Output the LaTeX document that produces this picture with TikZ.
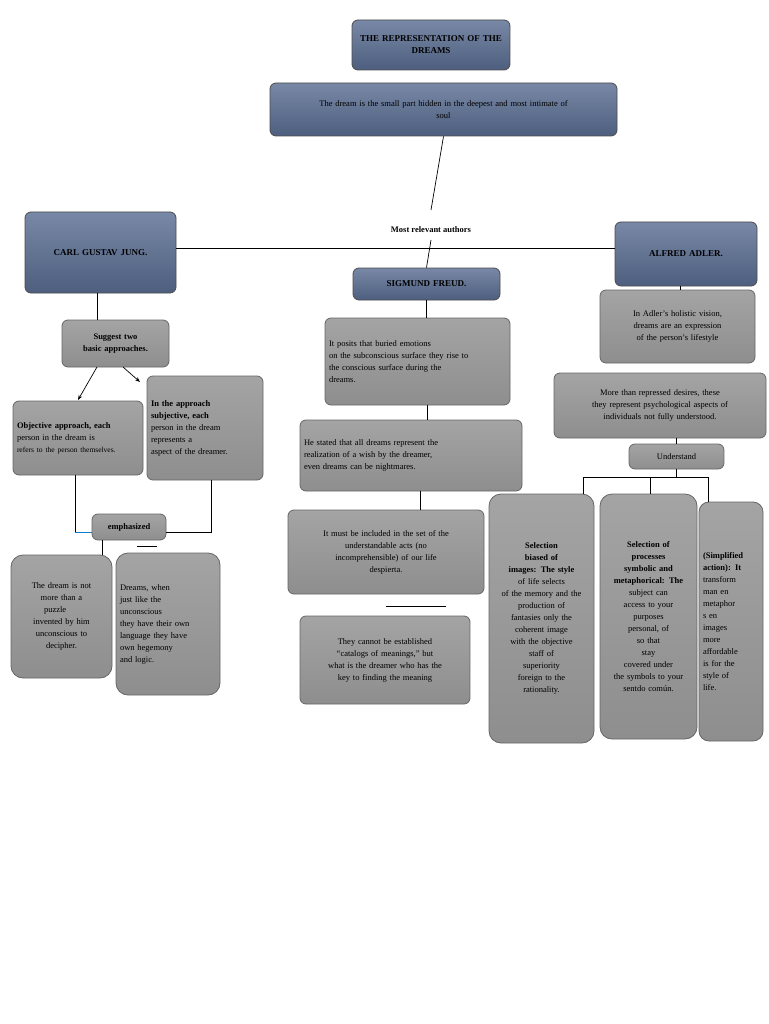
\documentclass[tikz,border=0pt]{standalone}
\usepackage{fontspec}
\setmainfont{Liberation Serif}
\usetikzlibrary{arrows.meta}
\definecolor{bluebox}{HTML}{4E5E7E}
\definecolor{bluetop}{HTML}{7888A6}
\definecolor{graybox}{HTML}{8E8E8E}
\definecolor{graytop}{HTML}{A4A4A4}
\begin{document}
\begin{tikzpicture}[x=1pt,y=-1pt,
 bx/.style={draw=#1,line width=0.8pt,rounded corners=6pt,inner sep=2pt,align=center,font=\fontsize{8.5}{12}\selectfont},
 blue/.style={bx=black!70,top color=bluetop,bottom color=bluebox,font=\fontsize{9}{12}\selectfont\bfseries},
 gray/.style={bx=black!60,top color=graytop,bottom color=graybox},
 ln/.style={line width=0.7pt},
]
\useasboundingbox (0,0) rectangle (768,1024);
\newcommand{\bxat}[6]{\node[#1,minimum width=#4-#2,minimum height=#5-#3,text width=#4-#2-8] (#6) at ({(#2+#4)/2},{(#3+#5)/2})}
% top
\bxat{blue}{352}{20}{510}{70}{title}{THE REPRESENTATION OF THE\\DREAMS};
\bxat{blue,font=\fontsize{8.5}{12}\selectfont}{270}{83}{617}{136}{intro}{The dream is the small part hidden in the deepest and most intimate of\\soul};
\node[font=\fontsize{8.5}{10}\selectfont\bfseries] (most) at (431,230) {Most relevant authors};
\bxat{blue}{25}{212}{176}{293}{jung}{CARL GUSTAV JUNG.};
\bxat{blue}{615}{222}{757}{286}{adler}{ALFRED ADLER.};
\bxat{blue}{353}{268}{500}{300}{freud}{SIGMUND FREUD.};
\draw[ln] (intro.south) -- (431,210);
\draw[ln] (jung.east |- 0,248) -- (adler.west |- 0,248);
\draw[ln] (431,240) -- (freud.north);
% Jung
\bxat{gray,font=\fontsize{8.5}{12}\selectfont\bfseries}{62}{320}{169}{367}{sugg}{Suggest two\\basic approaches.};
\draw[ln] (97,293) -- (97,320);
\bxat{gray,align=left}{13}{401}{143}{475}{obj}{\textbf{Objective approach, each}\\person in the dream is\\{\fontsize{7.5}{11}\selectfont refers to the person themselves.}};
\bxat{gray,align=left}{147}{376}{263}{480}{subj}{\textbf{In the approach}\\\textbf{subjective, each}\\person in the dream\\represents a\\aspect of the dreamer.};
\draw[ln,-{Stealth[length=5pt]}] (97,367) -- (78,400);
\draw[ln,-{Stealth[length=5pt]}] (123,367) -- (140,382);
\bxat{gray,font=\fontsize{8.5}{12}\selectfont\bfseries}{92}{514}{166}{540}{emph}{emphasized};
\draw[ln] (75,475) -- (75,532);
\draw[ln,cyan!60!blue] (75,532) -- (92,532);
\draw[ln] (211,480) -- (211,532) -- (166,532);
\draw[ln] (102,540) -- (102,555);
\coordinate (s1) at (137,546); \coordinate (s2) at (157,546);
\draw[ln] (s1) -- (s2);
\bxat{gray,rounded corners=12pt}{11}{555}{112}{678}{puz}{The dream is not\\more than a\\\hspace*{-1.5em}puzzle\\invented by him\\unconscious to\\decipher.};
\bxat{gray,rounded corners=12pt,align=left}{116}{553}{220}{695}{lang}{Dreams, when\\just like the\\unconscious\\they have their own\\language they have\\own hegemony\\and logic.};
% Freud
\bxat{gray,align=left}{325}{318}{510}{405}{f1}{It posits that buried emotions\\on the subconscious surface they rise to\\the conscious surface during the\\dreams.};
\bxat{gray,align=left}{300}{420}{522}{491}{f2}{He stated that all dreams represent the\\realization of a wish by the dreamer,\\even dreams can be nightmares.};
\bxat{gray}{288}{510}{484}{594}{f3}{It must be included in the set of the\\understandable acts (no\\incomprehensible) of our life\\despierta.};
\bxat{gray}{300}{616}{470}{704}{f4}{They cannot be established\\``catalogs of meanings,'' but\\what is the dreamer who has the\\key to finding the meaning};
\draw[ln] (freud.south) -- (f1.north -| freud.south);
\draw[ln] (427,405) -- (427,420);
\draw[ln] (420,491) -- (420,510);
\coordinate (t1) at (386,606); \coordinate (t2) at (446,606);
\draw[ln] (t1) -- (t2);
% Adler
\bxat{gray}{600}{290}{755}{363}{a1}{In Adler's holistic vision,\\dreams are an expression\\of the person's lifestyle};
\bxat{gray}{554}{373}{766}{438}{a2}{More than repressed desires, these\\they represent psychological aspects of\\individuals not fully understood.};
\bxat{gray}{629}{444}{724}{469}{und}{Understand};
\draw[ln] (680,286) -- (680,290);
\draw[ln] (676,438) -- (676,444);
\draw[ln] (676,469) -- (676,477);
\draw[ln] (583,477) -- (708,477);
\bxat{gray,rounded corners=12pt}{489}{494}{594}{743}{s1b}{\textbf{Selection}\\\textbf{biased of}\\\textbf{images: The style}\\of life selects\\of the memory and the\\production of\\fantasies only the\\coherent image\\with the objective\\staff of\\superiority\\foreign to the\\rationality.};
\bxat{gray,rounded corners=12pt}{600}{494}{697}{739}{s2b}{\textbf{Selection of}\\\textbf{processes}\\\textbf{symbolic and}\\\textbf{metaphorical: The}\\subject can\\access to your\\purposes\\personal, of\\so that\\stay\\covered under\\the symbols to your\\sentdo común.};
\bxat{gray,rounded corners=10pt,align=left}{699}{502}{763}{741}{s3b}{\textbf{(Simplified}\\\textbf{action): It}\\transform\\man en\\metaphor\\s en\\images\\more\\affordable\\is for the\\style of\\life.};
\draw[ln] (583,477) -- (s1b.north -| 583,0);
\draw[ln] (650,477) -- (s2b.north -| 650,0);
\draw[ln] (708,477) -- (s3b.north -| 708,0);
\end{tikzpicture}
\end{document}
